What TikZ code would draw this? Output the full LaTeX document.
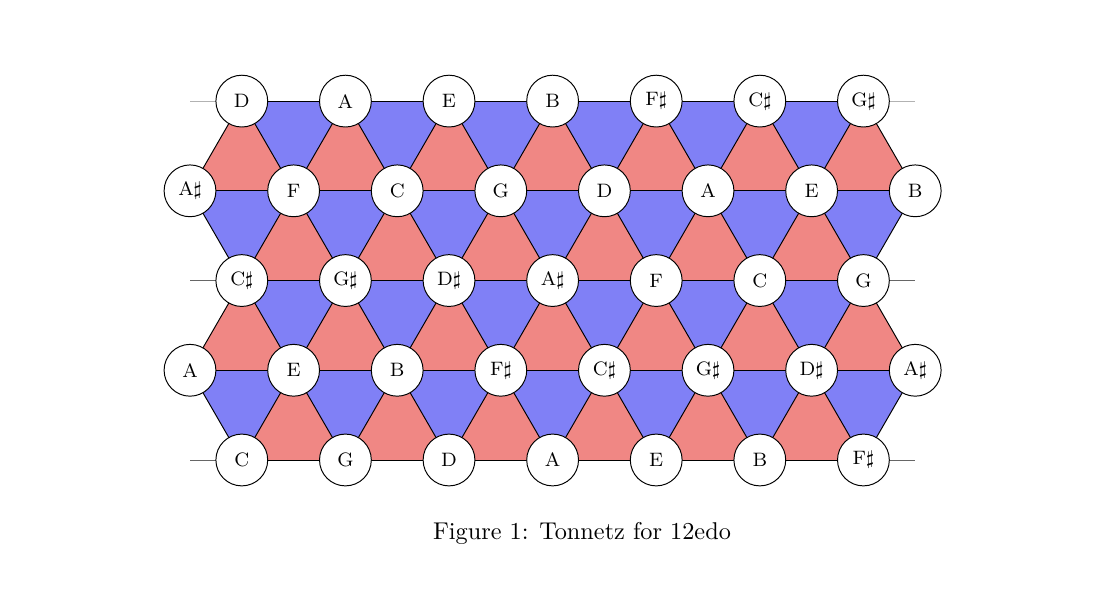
\documentclass[tikz,border=0pt]{standalone}
\usepackage{amssymb}
\usetikzlibrary{backgrounds}
\definecolor{majorred}{RGB}{240,135,132}
\definecolor{minorblue}{RGB}{128,128,246}
\begin{document}
\begin{tikzpicture}[note/.style = {draw, circle, fill=white, inner sep=0pt, minimum size=7.5mm, font=\footnotesize},
		major/.style={fill=majorred}, minor/.style={fill=minorblue},
		edge/.style={draw=black}, stub/.style={draw=black!60}]
		\useasboundingbox (-2.751,-2.230) rectangle (13.407,6.660);

		% rows of notes, bottom to top
		\foreach \n [count=\k from 0] in {C,G,D,A,E,B,F$\sharp$}
			\node[note] (n-0-\k) at ({0.75+1.5*\k},0) {\n};
		\foreach \n [count=\k from 0] in {A,E,B,F$\sharp$,C$\sharp$,G$\sharp$,D$\sharp$,A$\sharp$}
			\node[note] (n-1-\k) at ({1.5*\k},1.299) {\n};
		\foreach \n [count=\k from 0] in {C$\sharp$,G$\sharp$,D$\sharp$,A$\sharp$,F,C,G}
			\node[note] (n-2-\k) at ({0.75+1.5*\k},2.598) {\n};
		\foreach \n [count=\k from 0] in {A$\sharp$,F,C,G,D,A,E,B}
			\node[note] (n-3-\k) at ({1.5*\k},3.897) {\n};
		\foreach \n [count=\k from 0] in {D,A,E,B,F$\sharp$,C$\sharp$,G$\sharp$}
			\node[note] (n-4-\k) at ({0.75+1.5*\k},5.196) {\n};

		\begin{scope}[on background layer]
			% triangles
			\foreach \r/\s in {0/1,2/3} {
				\foreach \k in {0,...,6} {
					\pgfmathtruncatemacro\j{\k+1}
					\path[minor] (n-\s-\k.center) -- (n-\s-\j.center) -- (n-\r-\k.center) -- cycle;
				}
				\foreach \k in {1,...,6} {
					\pgfmathtruncatemacro\i{\k-1}
					\path[major] (n-\r-\i.center) -- (n-\r-\k.center) -- (n-\s-\k.center) -- cycle;
				}
			}
			\foreach \r/\s in {1/2,3/4} {
				\foreach \k in {0,...,6} {
					\pgfmathtruncatemacro\j{\k+1}
					\path[major] (n-\r-\k.center) -- (n-\r-\j.center) -- (n-\s-\k.center) -- cycle;
				}
				\foreach \k in {1,...,6} {
					\pgfmathtruncatemacro\i{\k-1}
					\path[minor] (n-\s-\i.center) -- (n-\s-\k.center) -- (n-\r-\k.center) -- cycle;
				}
			}

			% edges
			\foreach \r in {1,3}
				\foreach \k in {0,...,6} {
					\pgfmathtruncatemacro\j{\k+1}
					\draw[edge] (n-\r-\k.center) -- (n-\r-\j.center);
				}
			\foreach \r in {0,2,4}
				\foreach \k in {0,...,5} {
					\pgfmathtruncatemacro\j{\k+1}
					\draw[edge] (n-\r-\k.center) -- (n-\r-\j.center);
				}
			\foreach \r/\s in {0/1,2/1,2/3,4/3}
				\foreach \k in {0,...,6} {
					\pgfmathtruncatemacro\j{\k+1}
					\draw[edge] (n-\r-\k.center) -- (n-\s-\k.center);
					\draw[edge] (n-\r-\k.center) -- (n-\s-\j.center);
				}

			% loose ends of the even rows
			\foreach \r/\c in {0/black!60,2/black!60,4/black!30} {
				\draw[stub,draw=\c] (n-\r-0.center) -- ++(-0.75,0);
				\draw[stub,draw=\c] (n-\r-6.center) -- ++(0.75,0);
			}
		\end{scope}

		\node[anchor=base] (cap) at (5.675,-1.158) {Figure 1: Tonnetz for 12edo};

	\end{tikzpicture}
\end{document}
